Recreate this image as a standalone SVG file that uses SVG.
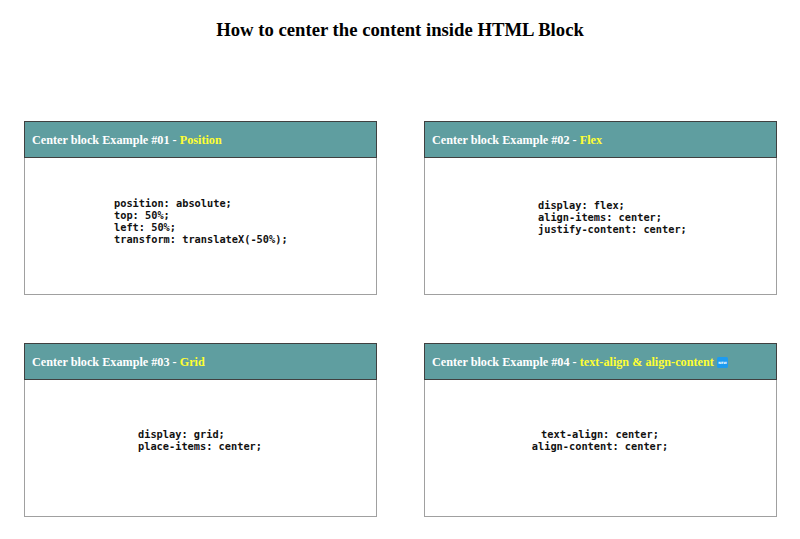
<svg xmlns="http://www.w3.org/2000/svg" width="800" height="539" viewBox="0 0 800 539">
<style>
.box{fill:#fff;stroke:#a0a0a0;stroke-width:1}
.hd{fill:#5f9ea0;stroke:#404040;stroke-width:1}
.ht{font-family:"Liberation Serif",serif;font-weight:bold;font-size:12.2px;fill:#fff}
.y{fill:#ffff33}
.code{font-family:"DejaVu Sans Mono","Liberation Mono",monospace;font-weight:bold;font-size:10.3px;fill:#111}
</style>
<rect width="800" height="539" fill="#fff"/>
<text x="400" y="36" text-anchor="middle" font-family="Liberation Serif,serif" font-weight="bold" font-size="18.7" fill="#000">How to center the content inside HTML Block</text>
<g id="block1">
<rect class="box" x="24.5" y="121.5" width="352" height="173"/>
<rect class="hd" x="24.5" y="121.5" width="352" height="36"/>
<text class="ht" x="32" y="144">Center block Example #01 - <tspan class="y">Position</tspan></text>
<text class="code" x="114" y="207">position: absolute;</text>
<text class="code" x="114" y="219">top: 50%;</text>
<text class="code" x="114" y="231">left: 50%;</text>
<text class="code" x="114" y="243">transform: translateX(-50%);</text>
</g>
<g id="block2">
<rect class="box" x="424.5" y="121.5" width="352" height="173"/>
<rect class="hd" x="424.5" y="121.5" width="352" height="36"/>
<text class="ht" x="432" y="144">Center block Example #02 - <tspan class="y">Flex</tspan></text>
<text class="code" x="538" y="209">display: flex;</text>
<text class="code" x="538" y="221">align-items: center;</text>
<text class="code" x="538" y="233">justify-content: center;</text>
</g>
<g id="block3">
<rect class="box" x="24.5" y="343.5" width="352" height="173"/>
<rect class="hd" x="24.5" y="343.5" width="352" height="36"/>
<text class="ht" x="32" y="366">Center block Example #03 - <tspan class="y">Grid</tspan></text>
<text class="code" x="138" y="438">display: grid;</text>
<text class="code" x="138" y="450">place-items: center;</text>
</g>
<g id="block4">
<rect class="box" x="424.5" y="343.5" width="352" height="173"/>
<rect class="hd" x="424.5" y="343.5" width="352" height="36"/>
<text class="ht" x="432" y="366">Center block Example #04 - <tspan class="y">text-align &amp; align-content</tspan></text>
<rect x="717" y="357" width="11" height="11" rx="1.5" fill="#1e9bf0"/>
<text x="722.5" y="364" text-anchor="middle" font-family="DejaVu Sans,sans-serif" font-size="3.2" font-weight="bold" fill="#fff">NEW</text>
<text class="code" x="600" y="438" text-anchor="middle">text-align: center;</text>
<text class="code" x="600" y="450" text-anchor="middle">align-content: center;</text>
</g>
<g id="connectors"/>
</svg>
